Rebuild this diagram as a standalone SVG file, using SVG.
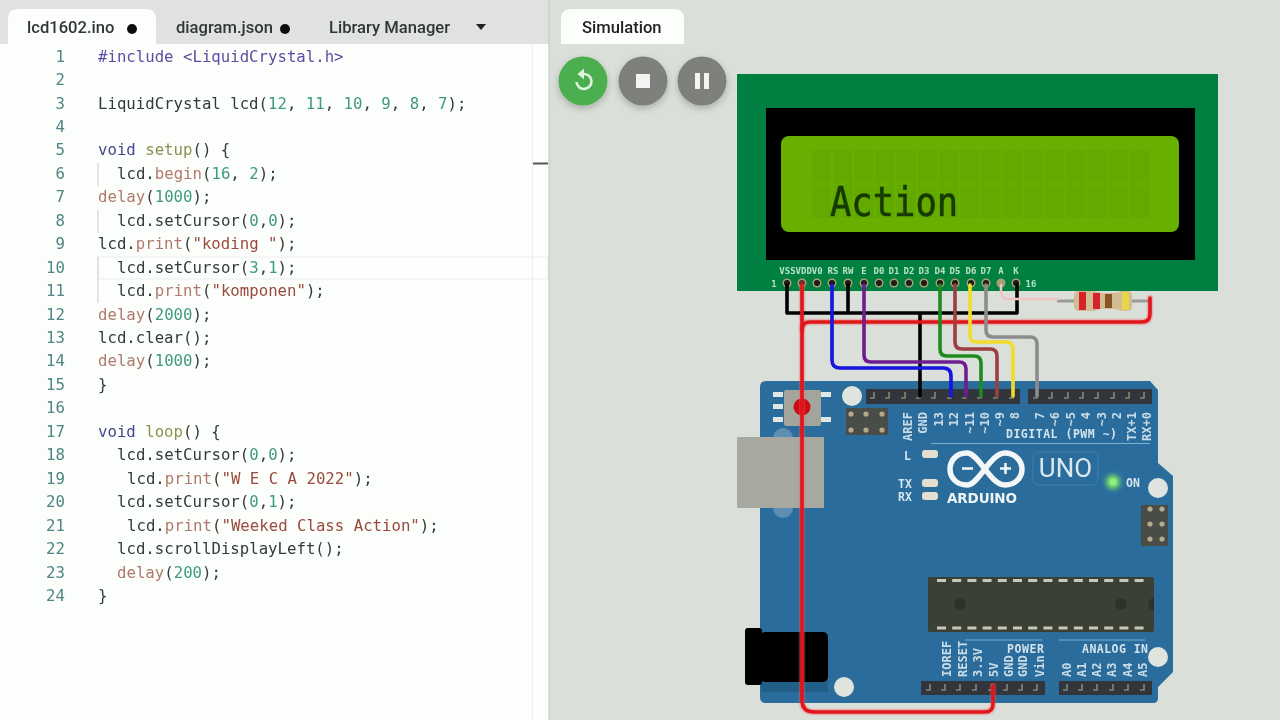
<svg xmlns="http://www.w3.org/2000/svg" width="1280" height="720" viewBox="0 0 1280 720">
<style>
.code{font:15.7px "DejaVu Sans Mono",monospace;fill:#333a38}
.n{font:15.7px "DejaVu Sans Mono",monospace;fill:#4f8583;text-anchor:end}
.kw{fill:#46468f}.num{fill:#3f9a7d}.str{fill:#9a4a3c}.fn{fill:#b0796b}.def{fill:#8d9150}.pp{fill:#5a4fa0}
.tab{font:500 16.600px Roboto,sans-serif;fill:#333634}
.lp{font:bold 9px "DejaVu Sans Mono",monospace;fill:#b6e0c4;text-anchor:middle}
.bl{font:bold 12px "DejaVu Sans Mono",monospace;fill:#c9dbe6}
.hl{font:bold 11.5px "DejaVu Sans Mono",monospace;fill:#d5e3ec}
.w{fill:none;stroke-width:3.6;stroke-linejoin:round;stroke-linecap:round}
.hdr{fill:#33363a}.pad{fill:#4a4d47}.hole{fill:#dfe4df}.icd{fill:#b5aa8c}
.tk{fill:none;stroke:#85867c;stroke-width:1.6}
.led{fill:#e5dfcf}.tw{fill:#dfe6e6}
.cell{fill:#62aa00}.dot{fill:#2e3129}
</style>
<defs>
<path id="t" class="tk" d="M-4 6h4v-6"/>
<filter id="soft" x="-5%" y="-5%" width="110%" height="110%"><feGaussianBlur stdDeviation="0.45"/></filter>
<filter id="sh" x="-30%" y="-30%" width="160%" height="170%"><feDropShadow dx="0" dy="3" stdDeviation="3.5" flood-color="#000" flood-opacity=".22"/></filter>
<filter id="glow" x="-100%" y="-100%" width="300%" height="300%"><feGaussianBlur stdDeviation="2.4"/></filter>
</defs>
<rect width="1280" height="720" fill="#dbdfda"/>
<g filter="url(#soft)">
<g id="editor">
<rect width="549" height="44" fill="#dfe2de"/>
<rect y="44" width="549" height="676" fill="#fcfefc"/>
<path d="M8 44V19q0-10 10-10h128q10 0 10 10v25z" fill="#fcfefc"/>
<text class="tab" x="27" y="33">lcd1602.ino</text><circle cx="132" cy="29" r="5" fill="#111"/>
<text class="tab" x="176" y="33">diagram.json</text><circle cx="285" cy="29" r="5" fill="#111"/>
<text class="tab" x="329" y="33">Library Manager</text><path d="M476 24h10l-5 6z" fill="#222"/>
<rect x="98" y="257" width="450" height="22" fill="none" stroke="#eef0ee" stroke-width="1.2"/>
<path d="M532.500 44V720" stroke="#eceeec" stroke-width="1"/><path d="M533 163.500h15" stroke="#555" stroke-width="2"/>
<path d="M98 163v23M98 210v23M98 257v46" stroke="#d4d6d4" stroke-width="1.2"/><path d="M549 0V720" stroke="#c8ccc8" stroke-width="1.200"/>
<text class="n" x="65" y="61.600">1</text><text class="n" x="65" y="85">2</text><text class="n" x="65" y="108.500">3</text><text class="n" x="65" y="132">4</text><text class="n" x="65" y="155.400">5</text><text class="n" x="65" y="178.800">6</text><text class="n" x="65" y="202.300">7</text><text class="n" x="65" y="225.800">8</text><text class="n" x="65" y="249.200">9</text><text class="n" x="65" y="272.600">10</text><text class="n" x="65" y="296.100">11</text><text class="n" x="65" y="319.500">12</text><text class="n" x="65" y="343">13</text><text class="n" x="65" y="366.400">14</text><text class="n" x="65" y="389.900">15</text><text class="n" x="65" y="413.300">16</text><text class="n" x="65" y="436.800">17</text><text class="n" x="65" y="460.200">18</text><text class="n" x="65" y="483.700">19</text><text class="n" x="65" y="507.100">20</text><text class="n" x="65" y="530.600">21</text><text class="n" x="65" y="554">22</text><text class="n" x="65" y="577.500">23</text><text class="n" x="65" y="600.900">24</text>
<text class="code" x="98" y="61.600"><tspan class="pp">#include &lt;</tspan><tspan class="pp">LiquidCrystal.h&gt;</tspan></text>
<text class="code" x="98" y="108.500">LiquidCrystal lcd(<tspan class="num">12</tspan>, <tspan class="num">11</tspan>, <tspan class="num">10</tspan>, <tspan class="num">9</tspan>, <tspan class="num">8</tspan>, <tspan class="num">7</tspan>);</text>
<text class="code" x="98" y="155.400"><tspan class="kw">void</tspan> <tspan class="def">setup</tspan>() {</text>
<text class="code" x="117" y="178.800">lcd.<tspan class="fn">begin</tspan>(<tspan class="num">16</tspan>, <tspan class="num">2</tspan>);</text>
<text class="code" x="98" y="202.300"><tspan class="fn">delay</tspan>(<tspan class="num">1000</tspan>);</text>
<text class="code" x="117" y="225.800">lcd.setCursor(<tspan class="num">0</tspan>,<tspan class="num">0</tspan>);</text>
<text class="code" x="98" y="249.200">lcd.<tspan class="fn">print</tspan>(<tspan class="str">"koding "</tspan>);</text>
<text class="code" x="117" y="272.600">lcd.setCursor(<tspan class="num">3</tspan>,<tspan class="num">1</tspan>);</text>
<text class="code" x="117" y="296.100">lcd.<tspan class="fn">print</tspan>(<tspan class="str">"komponen"</tspan>);</text>
<text class="code" x="98" y="319.500"><tspan class="fn">delay</tspan>(<tspan class="num">2000</tspan>);</text>
<text class="code" x="98" y="343">lcd.clear();</text>
<text class="code" x="98" y="366.400"><tspan class="fn">delay</tspan>(<tspan class="num">1000</tspan>);</text>
<text class="code" x="98" y="389.900">}</text>
<text class="code" x="98" y="436.800"><tspan class="kw">void</tspan> <tspan class="def">loop</tspan>() {</text>
<text class="code" x="117" y="460.200">lcd.setCursor(<tspan class="num">0</tspan>,<tspan class="num">0</tspan>);</text>
<text class="code" x="127" y="483.700">lcd.<tspan class="fn">print</tspan>(<tspan class="str">"W E C A 2022"</tspan>);</text>
<text class="code" x="117" y="507.100">lcd.setCursor(<tspan class="num">0</tspan>,<tspan class="num">1</tspan>);</text>
<text class="code" x="127" y="530.600">lcd.<tspan class="fn">print</tspan>(<tspan class="str">"Weeked Class Action"</tspan>);</text>
<text class="code" x="117" y="554">lcd.scrollDisplayLeft();</text>
<text class="code" x="117" y="577.500"><tspan class="fn">delay</tspan>(<tspan class="num">200</tspan>);</text>
<text class="code" x="98" y="600.900">}</text>
</g>
<g id="simulation-tab">
<path d="M561 44V19q0-10 10-10h103q10 0 10 10v25z" fill="#fcfefc"/>
<text class="tab" x="582" y="33" style="fill:#222">Simulation</text>
</g>
<g id="btn-restart"><circle cx="583" cy="81" r="24.500" fill="#4caf50" filter="url(#sh)"/><path d="M576.500 82a7.500 7.500 0 1 0 6.500-8" fill="none" stroke="#dff2df" stroke-width="2.600"/><path d="M584 68.500v11l-6.500-5.500z" fill="#dff2df"/></g>
<g id="btn-stop"><circle cx="643" cy="81" r="24.500" fill="#7e807c" filter="url(#sh)"/><rect x="636" y="74" width="14" height="14" fill="#f4f4f4"/></g>
<g id="btn-pause"><circle cx="702" cy="81" r="24.500" fill="#7e807c" filter="url(#sh)"/><rect x="695" y="73" width="5" height="16" fill="#f4f4f4"/><rect x="704" y="73" width="5" height="16" fill="#f4f4f4"/></g>
<g id="arduino">
<path d="M766 381H1150L1158 390V463L1173 476V672L1158 687V698Q1158 703 1153 703H766Q760 703 760 697V387Q760 381 766 381Z" fill="#2a6d9c"/>
<rect x="761" y="680" width="67" height="12" fill="#245e87"/>
<circle cx="852" cy="396" r="10" class="hole"/><circle cx="1158" cy="488" r="10" class="hole"/><circle cx="844" cy="687" r="10" class="hole"/><circle cx="1158" cy="657" r="10" class="hole"/>
<circle cx="783" cy="438" r="10" fill="#5d8fb2"/><circle cx="783" cy="508" r="10" fill="#5d8fb2"/>
<g class="tw"><rect x="773" y="392" width="10" height="5"/><rect x="773" y="404" width="10" height="5"/><rect x="773" y="417" width="10" height="5"/><rect x="821" y="392" width="10" height="5"/><rect x="821" y="417" width="10" height="5"/></g>
<rect x="784" y="390" width="37" height="36" rx="2" fill="#a3a49c"/>
<circle cx="802" cy="407" r="8.500" fill="#cc0a12"/>
<rect x="737" y="437" width="87" height="71" rx="1" fill="#a7a89f"/>
<rect x="745" y="628" width="17" height="57" rx="3" fill="#000"/><rect x="760" y="632" width="68" height="50" rx="5" fill="#050505"/>
<rect x="866" y="389" width="154" height="15" class="hdr"/><rect x="1028" y="389" width="124" height="15" class="hdr"/>
<rect x="921" y="681" width="124" height="14" class="hdr"/><rect x="1059" y="681" width="93" height="14" class="hdr"/>
<g><use href="#t" x="874" y="392"/><use href="#t" x="889" y="392"/><use href="#t" x="905" y="392"/><use href="#t" x="920" y="392"/><use href="#t" x="935" y="392"/><use href="#t" x="951" y="392"/><use href="#t" x="966" y="392"/><use href="#t" x="981" y="392"/><use href="#t" x="997" y="392"/><use href="#t" x="1013" y="392"/><use href="#t" x="1037" y="392"/><use href="#t" x="1052" y="392"/><use href="#t" x="1068" y="392"/><use href="#t" x="1083" y="392"/><use href="#t" x="1098" y="392"/><use href="#t" x="1114" y="392"/><use href="#t" x="1129" y="392"/><use href="#t" x="1144" y="392"/>
<use href="#t" x="930" y="684"/><use href="#t" x="945" y="684"/><use href="#t" x="960" y="684"/><use href="#t" x="976" y="684"/><use href="#t" x="992" y="684"/><use href="#t" x="1007" y="684"/><use href="#t" x="1022" y="684"/><use href="#t" x="1037" y="684"/><use href="#t" x="1067" y="684"/><use href="#t" x="1082" y="684"/><use href="#t" x="1097" y="684"/><use href="#t" x="1113" y="684"/><use href="#t" x="1128" y="684"/><use href="#t" x="1144" y="684"/></g>
<rect x="846" y="408" width="42" height="27" class="pad"/><rect x="1141" y="505" width="27" height="41" class="pad"/>
<g class="icd"><circle cx="851" cy="414" r="2.600"/><circle cx="866" cy="414" r="2.600"/><circle cx="882" cy="414" r="2.600"/><circle cx="851" cy="430" r="2.600"/><circle cx="866" cy="430" r="2.600"/><circle cx="882" cy="430" r="2.600"/><circle cx="1150" cy="509" r="2.600"/><circle cx="1162" cy="509" r="2.600"/><circle cx="1150" cy="524" r="2.600"/><circle cx="1162" cy="524" r="2.600"/><circle cx="1150" cy="539" r="2.600"/><circle cx="1162" cy="539" r="2.600"/></g>
<g class="bl" text-anchor="end">
<text transform="translate(912,412) rotate(-90)">AREF</text><text transform="translate(927,412) rotate(-90)">GND</text><text transform="translate(943,412) rotate(-90)">13</text><text transform="translate(958,412) rotate(-90)">12</text><text transform="translate(974,412) rotate(-90)">~11</text><text transform="translate(989,412) rotate(-90)">~10</text><text transform="translate(1004,412) rotate(-90)">~9</text><text transform="translate(1019,412) rotate(-90)">8</text><text transform="translate(1044,412) rotate(-90)">7</text><text transform="translate(1059,412) rotate(-90)">~6</text><text transform="translate(1075,412) rotate(-90)">~5</text><text transform="translate(1090,412) rotate(-90)">4</text><text transform="translate(1106,412) rotate(-90)">~3</text><text transform="translate(1121,412) rotate(-90)">2</text><text transform="translate(1136,412) rotate(-90)">TX+1</text><text transform="translate(1151,412) rotate(-90)">RX+0</text>
</g>
<g class="bl">
<text transform="translate(951,677) rotate(-90)">IOREF</text><text transform="translate(967,677) rotate(-90)">RESET</text><text transform="translate(982,677) rotate(-90)">3.3V</text><text transform="translate(998,677) rotate(-90)">5V</text><text transform="translate(1013,677) rotate(-90)">GND</text><text transform="translate(1027,677) rotate(-90)">GND</text><text transform="translate(1044,677) rotate(-90)">Vin</text><text transform="translate(1071,677) rotate(-90)">A0</text><text transform="translate(1086,677) rotate(-90)">A1</text><text transform="translate(1101,677) rotate(-90)">A2</text><text transform="translate(1116,677) rotate(-90)">A3</text><text transform="translate(1132,677) rotate(-90)">A4</text><text transform="translate(1147,677) rotate(-90)">A5</text>
</g>
<text class="hl" x="1006" y="438" textLength="111">DIGITAL (PWM ~)</text>
<path d="M931 443.500H1150M965 640H1042M1059 640H1145" stroke="#7fb0cd" stroke-width="1"/>
<text class="hl" x="904" y="460">L</text><text class="hl" x="898" y="488">TX</text><text class="hl" x="898" y="501">RX</text>
<rect x="922" y="450" width="16" height="8" rx="3" class="led"/><rect x="922" y="479" width="16" height="8" rx="3" class="led"/><rect x="922" y="492" width="16" height="8" rx="3" class="led"/>
<path d="M967 453C955 453 950 462 950 469C950 478 957 485 967 485C979 485 990 453 1005 453C1015 453 1022 461 1022 469C1022 478 1015 485 1005 485C990 485 979 453 967 453Z" fill="none" stroke="#f4f7f7" stroke-width="5.500"/>
<path d="M962 468.500H973M1000 468.500H1011M1005.500 463V474" stroke="#f4f7f7" stroke-width="2.500"/>
<text x="947" y="503" font-family="'DejaVu Sans',sans-serif" font-weight="700" font-size="13.500" fill="#eef3f4" textLength="70">ARDUINO</text>
<rect x="1033" y="452" width="65" height="33" rx="6" fill="none" stroke="#3f82ad" stroke-width="1"/>
<text x="1065.500" y="477" text-anchor="middle" font-family="Roboto,sans-serif" font-size="26" fill="#dbe9ef">UNO</text>
<circle cx="1113" cy="482" r="7" fill="#7de868" filter="url(#glow)"/><circle cx="1113" cy="482" r="3.500" fill="#8ef07c"/>
<text class="hl" x="1126" y="487">ON</text>
<text class="hl" x="1007" y="653" textLength="37">POWER</text><text class="hl" x="1082" y="653" textLength="66">ANALOG IN</text>
<rect x="928" y="577" width="226" height="55" rx="2" fill="#3b3f36"/>
<path d="M937 580.500H1148M937 628H1148" fill="none" stroke="#c9c8b6" stroke-width="2.800" stroke-dasharray="9 6.200"/>
<circle cx="960" cy="604" r="5.800" class="dot"/><circle cx="1121" cy="604" r="5.800" class="dot"/><path d="M1154 598a6 6 0 0 0 0 12z" class="dot"/>
</g>
<g id="lcd">
<rect x="737" y="74" width="481" height="217" fill="#05803f"/>
<rect x="766" y="108" width="429" height="152" fill="#000"/>
<rect x="781" y="136" width="398" height="96" rx="8" fill="#67b000"/>
<g class="cell">
<rect x="812" y="150" width="19" height="33"/><rect x="833.200" y="150" width="19" height="33"/><rect x="854.400" y="150" width="19" height="33"/><rect x="875.600" y="150" width="19" height="33"/><rect x="896.800" y="150" width="19" height="33"/><rect x="918" y="150" width="19" height="33"/><rect x="939.200" y="150" width="19" height="33"/><rect x="960.400" y="150" width="19" height="33"/><rect x="981.600" y="150" width="19" height="33"/><rect x="1002.800" y="150" width="19" height="33"/><rect x="1024" y="150" width="19" height="33"/><rect x="1045.200" y="150" width="19" height="33"/><rect x="1066.400" y="150" width="19" height="33"/><rect x="1087.600" y="150" width="19" height="33"/><rect x="1108.800" y="150" width="19" height="33"/><rect x="1130" y="150" width="19" height="33"/>
<rect x="812" y="185" width="19" height="33"/><rect x="833.200" y="185" width="19" height="33"/><rect x="854.400" y="185" width="19" height="33"/><rect x="875.600" y="185" width="19" height="33"/><rect x="896.800" y="185" width="19" height="33"/><rect x="918" y="185" width="19" height="33"/><rect x="939.200" y="185" width="19" height="33"/><rect x="960.400" y="185" width="19" height="33"/><rect x="981.600" y="185" width="19" height="33"/><rect x="1002.800" y="185" width="19" height="33"/><rect x="1024" y="185" width="19" height="33"/><rect x="1045.200" y="185" width="19" height="33"/><rect x="1066.400" y="185" width="19" height="33"/><rect x="1087.600" y="185" width="19" height="33"/><rect x="1108.800" y="185" width="19" height="33"/><rect x="1130" y="185" width="19" height="33"/>
</g>
<text transform="translate(830,216) scale(1,1.150)" font-family="'DejaVu Sans Mono',monospace" font-size="35.500" fill="#173a06" stroke="#173a06" stroke-width=".5">Action</text>
<text class="lp" x="801" y="274">VSSVDDV0</text><text class="lp" x="833" y="274">RS</text><text class="lp" x="848" y="274">RW</text><text class="lp" x="864" y="274">E</text><text class="lp" x="879" y="274">D0</text><text class="lp" x="894" y="274">D1</text><text class="lp" x="909" y="274">D2</text><text class="lp" x="924" y="274">D3</text><text class="lp" x="940" y="274">D4</text><text class="lp" x="955" y="274">D5</text><text class="lp" x="971" y="274">D6</text><text class="lp" x="986" y="274">D7</text><text class="lp" x="1001" y="274">A</text><text class="lp" x="1016" y="274">K</text><text class="lp" x="774" y="287">1</text><text class="lp" x="1031" y="287">16</text>
<g fill="#a89f76"><circle cx="787" cy="283" r="4.500"/><circle cx="802" cy="283" r="4.500"/><circle cx="817" cy="283" r="4.500"/><circle cx="832" cy="283" r="4.500"/><circle cx="848" cy="283" r="4.500"/><circle cx="864" cy="283" r="4.500"/><circle cx="879" cy="283" r="4.500"/><circle cx="894" cy="283" r="4.500"/><circle cx="909" cy="283" r="4.500"/><circle cx="924" cy="283" r="4.500"/><circle cx="940" cy="283" r="4.500"/><circle cx="955" cy="283" r="4.500"/><circle cx="971" cy="283" r="4.500"/><circle cx="986" cy="283" r="4.500"/><circle cx="1001" cy="283" r="4.500"/><circle cx="1016" cy="283" r="4.500"/></g>
<g fill="#1a1a14"><circle cx="787" cy="283" r="3"/><circle cx="802" cy="283" r="3"/><circle cx="817" cy="283" r="3"/><circle cx="832" cy="283" r="3"/><circle cx="848" cy="283" r="3"/><circle cx="864" cy="283" r="3"/><circle cx="879" cy="283" r="3"/><circle cx="894" cy="283" r="3"/><circle cx="909" cy="283" r="3"/><circle cx="924" cy="283" r="3"/><circle cx="940" cy="283" r="3"/><circle cx="955" cy="283" r="3"/><circle cx="971" cy="283" r="3"/><circle cx="986" cy="283" r="3"/><circle cx="1016" cy="283" r="3"/></g>
</g>
<g id="resistor">
<path d="M1057 301H1150" stroke="#9a9c98" stroke-width="3"/>
<path d="M1074 296q0-5 5-5h16q3 2 8 2h10q5 0 8-2h6q5 0 5 5v10q0 5-5 5h-6q-3-2-8-2h-10q-5 0-8 2h-16q-5 0-5-5z" fill="#d0bd94"/>
<rect x="1079" y="292" width="7" height="18" fill="#d8222a"/><rect x="1093" y="293" width="7" height="16" fill="#d8222a"/><rect x="1105" y="294" width="7" height="14" fill="#8a5524"/><rect x="1122" y="292" width="7" height="18" fill="#e9d54a"/>
</g>
<g id="connectors">
<g stroke-opacity=".35" class="w"><path d="M802 283V700Q802 712 814 712H985Q993 712 993 704V686" stroke="#f4605f" stroke-width="6.500"/><path d="M802 330Q802 322 810 322H1142Q1150 322 1150 314V298" stroke="#f4605f" stroke-width="6.500"/></g>
<path class="w" stroke="#000" d="M787 285V313H1017V285M848 285V313M920 313V396"/>
<path class="w" stroke="#e0161b" d="M802 285V700Q802 712 814 712H985Q993 712 993 704V686"/>
<path class="w" stroke="#e0161b" d="M802 330Q802 322 810 322H1142Q1150 322 1150 314V298"/>
<path class="w" stroke="#1414e0" d="M832 285V360Q832 368 840 368H943Q951 368 951 376V396"/>
<path class="w" stroke="#6e1f90" d="M864 285V355Q864 362 871 362H959Q966 362 966 369V396"/>
<path class="w" stroke="#1f8a1f" d="M940 285V349Q940 356 947 356H974Q981 356 981 363V396"/>
<path class="w" stroke="#9a4040" d="M955 285V342Q955 349 962 349H990Q997 349 997 356V396"/>
<path class="w" stroke="#f2dc2c" d="M970 285V335Q970 342 977 342H1006Q1013 342 1013 349V396"/>
<path class="w" stroke="#8c8c8c" d="M986 285V330Q986 337 993 337H1030Q1037 337 1037 344V396"/>
<path class="w" stroke="#f1c4c4" d="M1001 285V292Q1001 299 1008 299H1058" style="stroke-width:2.500"/>
</g>
</g>
</svg>
